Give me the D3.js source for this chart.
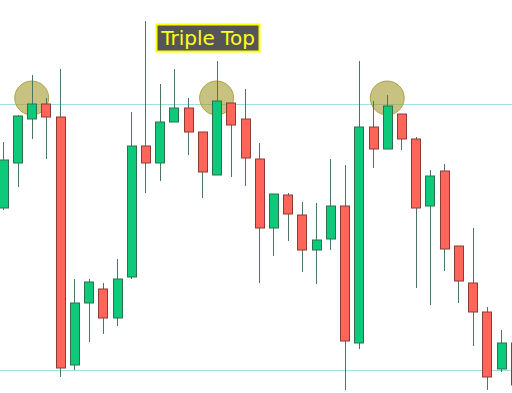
<!DOCTYPE html>
<html>
<head>
<meta charset="utf-8">
<script src="https://cdn.jsdelivr.net/npm/d3@7"></script>
<style>
  html, body { margin: 0; padding: 0; background: #fff; }
  svg { display: block; }
</style>
</head>
<body>
<svg id="chart" width="512" height="393"></svg>
<script>
// OHLC values
const open  = [118.5, 123.0, 127.4, 128.9, 127.6, 102.8, 109.0, 110.4, 107.5, 111.6,
               124.7, 123.0, 127.1, 128.5, 126.1, 121.8, 129.0, 127.4, 123.4, 116.5,
               119.8, 117.8, 114.3, 115.4, 118.7, 105.0, 126.6, 124.4, 127.9, 125.4,
               118.7, 122.2, 114.7, 111.0, 108.1, 102.4, 105.0];
const high  = [125.1, 127.8, 131.8, 129.5, 132.4, 111.4, 111.4, 111.0, 113.4, 128.1,
               137.2, 130.9, 132.4, 129.5, 126.1, 133.2, 129.0, 130.4, 125.0, 119.9,
               120.0, 119.1, 119.0, 123.4, 122.8, 133.2, 129.2, 129.8, 127.9, 125.6,
               122.3, 122.9, 114.7, 116.5, 108.6, 106.3, 105.8];
const low   = [118.3, 120.6, 125.4, 123.4, 101.6, 102.3, 105.1, 105.9, 106.7, 111.4,
               120.0, 121.2, 127.1, 123.8, 119.5, 121.8, 121.6, 120.7, 111.0, 113.7,
               115.2, 112.1, 110.9, 114.3, 100.3, 104.4, 122.5, 124.4, 124.3, 110.5,
               108.8, 112.2, 109.0, 104.7, 100.3, 102.1, 100.0];
const close = [123.3, 127.7, 128.9, 127.6, 102.5, 109.0, 111.1, 107.5, 111.4, 124.7,
               123.0, 127.1, 128.5, 126.1, 122.1, 129.2, 126.8, 123.5, 116.5, 119.9,
               117.9, 114.3, 115.3, 118.7, 105.2, 126.6, 124.4, 128.7, 125.4, 118.5,
               121.7, 114.4, 111.2, 108.1, 101.6, 105.0, 100.8];

const levels = [128.9, 102.3];        // resistance / support lines
const tops = [2, 15, 27];             // candles marked as tops
const topPrice = 129.5;
const labelText = "Triple Top";

const candles = open.map((o, i) => ({ i, o, h: high[i], l: low[i], c: close[i] }));

const svg = d3.select("#chart");
const width = 512, height = 393;
const step = 14.22;

const x = d3.scaleBand()
  .domain(d3.range(candles.length))
  .range([3.3 - step / 2, 3.3 - step / 2 + step * candles.length])
  .paddingInner(0.37)
  .paddingOuter(0.185);

const y = d3.scaleLinear().domain([100, 139.3]).range([height, 0]);
const cx = (i) => x(i) + x.bandwidth() / 2;

// horizontal levels
svg.append("g")
  .selectAll("line")
  .data(levels)
  .join("line")
  .attr("x1", 0)
  .attr("x2", width)
  .attr("y1", (d) => Math.round(y(d)) + 0.5)
  .attr("y2", (d) => Math.round(y(d)) + 0.5)
  .attr("stroke", "#9fdfe6")
  .attr("stroke-width", 1);

// top markers
svg.append("g")
  .selectAll("circle")
  .data(tops)
  .join("circle")
  .attr("cx", (d) => cx(d))
  .attr("cy", y(topPrice))
  .attr("r", 17)
  .attr("fill", "rgba(160,150,40,0.58)")
  .attr("stroke", "rgba(160,150,40,0.8)")
  .attr("stroke-width", 1);

const g = svg.append("g");

// wicks
g.selectAll("line.wick")
  .data(candles)
  .join("line")
  .attr("class", "wick")
  .attr("x1", (d) => Math.round(cx(d.i)) + 0.5)
  .attr("x2", (d) => Math.round(cx(d.i)) + 0.5)
  .attr("y1", (d) => y(d.h))
  .attr("y2", (d) => y(d.l))
  .attr("stroke", "#4b7762")
  .attr("stroke-width", 1);

// bodies
g.selectAll("rect.body")
  .data(candles)
  .join("rect")
  .attr("class", "body")
  .attr("x", (d) => Math.round(x(d.i)) + 0.5)
  .attr("y", (d) => y(Math.max(d.o, d.c)))
  .attr("width", Math.round(x.bandwidth()))
  .attr("height", (d) => Math.max(1, Math.abs(y(d.o) - y(d.c))))
  .attr("fill", (d) => (d.c >= d.o ? "#0cca7a" : "#ff6659"))
  .attr("stroke", (d) => (d.c >= d.o ? "#2f6e4f" : "#8c3a36"))
  .attr("stroke-width", 1);

// annotation label
const label = svg.append("g").attr("transform", "translate(208, 38)");
label.append("rect")
  .attr("x", -51.5)
  .attr("y", -13.5)
  .attr("width", 103)
  .attr("height", 27)
  .attr("fill", "#555555")
  .attr("stroke", "#ffff00")
  .attr("stroke-width", 2);
label.append("text")
  .attr("text-anchor", "middle")
  .attr("dy", "0.36em")
  .attr("font-family", "DejaVu Sans, Verdana, sans-serif")
  .attr("font-size", 20)
  .attr("fill", "#ffff1a")
  .text(labelText);
</script>
</body>
</html>
